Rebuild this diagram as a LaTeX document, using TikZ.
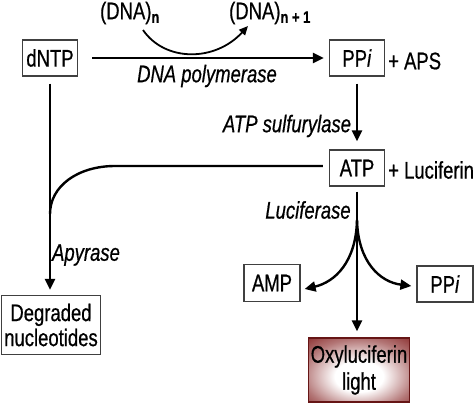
\documentclass[tikz,border=0pt]{standalone}
\usepackage{fontspec}
\setmainfont[FakeStretch=0.77,FakeBold=0.6]{Liberation Sans}
\usetikzlibrary{arrows.meta}
\definecolor{oxyred}{RGB}{128,26,26}
\pgfdeclareradialshading{oxyglow}{\pgfpoint{0bp}{-6bp}}{color(0bp)=(white); color(12bp)=(white); color(28bp)=(oxyred!60); color(42bp)=(oxyred); color(75bp)=(oxyred!85!black)}

\begin{document}
\begin{tikzpicture}[x=1pt,y=-1pt,
  font=\fontsize{24}{25}\selectfont,
  box/.style={shape=rectangle,draw=black!75,line width=1.2pt,align=center,inner sep=0pt,minimum width=55pt,minimum height=36pt},
  flow/.style={draw=black,line width=2.4pt,-{Triangle[length=11pt,width=10pt]}},
  enz/.style={font=\fontsize{24}{25}\selectfont\itshape}]
\useasboundingbox (0,0) rectangle (474,402);

\node[box] (dntp) at (50,58) {dNTP};
\node[box] (ppi) at (357,58) {PP\textit{i}};
\node[box] (atp) at (357,168) {ATP};
\node[box,minimum width=56pt,minimum height=37pt] (amp) at (272,283) {AMP};
\node[box,minimum width=56pt] (ppi2) at (445,284) {PP\textit{i}};
\node[box,minimum width=99pt,minimum height=59pt] (deg) at (51,325) {Degraded\\nucleotides};
\node[box,draw=oxyred!80!black,shading=oxyglow,minimum width=101pt,minimum height=64pt,font=\fontsize{24}{27}\selectfont] (oxy) at (359,370) {Oxyluciferin\\light};

\node (dnan) at (130,13) {(DNA)\textsubscript{\bfseries n}};
\node (dnan1) at (270,13) {(DNA)\textsubscript{\bfseries n + 1}};
\node[anchor=west,inner sep=0pt] (aps) at (388,61) {+ APS};
\node[anchor=west,inner sep=0pt] (lucin) at (388,170) {+ Luciferin};

\node[enz] (pol) at (207,76) {DNA polymerase};
\node[enz] (sulf) at (287,126) {ATP sulfurylase};
\node[enz] (lucase) at (308,210) {Luciferase};
\node[enz] (apy) at (86,255) {Apyrase};

\coordinate (polin) at (143,30);
\coordinate (polout) at (248,26);
\coordinate (apyj) at (50,214);
\coordinate (split) at (357,220);

\draw[flow] ([xshift=14pt]dntp.east) -- ([xshift=-5pt]ppi.west);
\draw[flow,line width=1.8pt,-{Triangle[length=9pt,width=8pt]}] (polin) .. controls (165,62) and (215,62) .. (polout);
\draw[flow] ([yshift=-7pt]ppi.south) -- ([yshift=8pt]atp.north);
\draw[line width=2.4pt] ([xshift=-6pt,yshift=2pt]atp.west) -- (115,166) .. controls (78,166) and (50,186) .. (apyj);
\draw[flow] ([yshift=-7pt]dntp.south) -- ([yshift=5pt]deg.north -| dntp.south);
\draw[flow] ([yshift=-5pt]atp.south) -- ([yshift=6pt]oxy.north -| atp.south);
\draw[flow] (split) .. controls (356,262) and (335,282) .. ([xshift=4pt,yshift=-6pt]amp.east);
\draw[flow] (split) .. controls (358,262) and (380,282) .. ([xshift=-5pt,yshift=-2pt]ppi2.west);
\end{tikzpicture}
\end{document}
